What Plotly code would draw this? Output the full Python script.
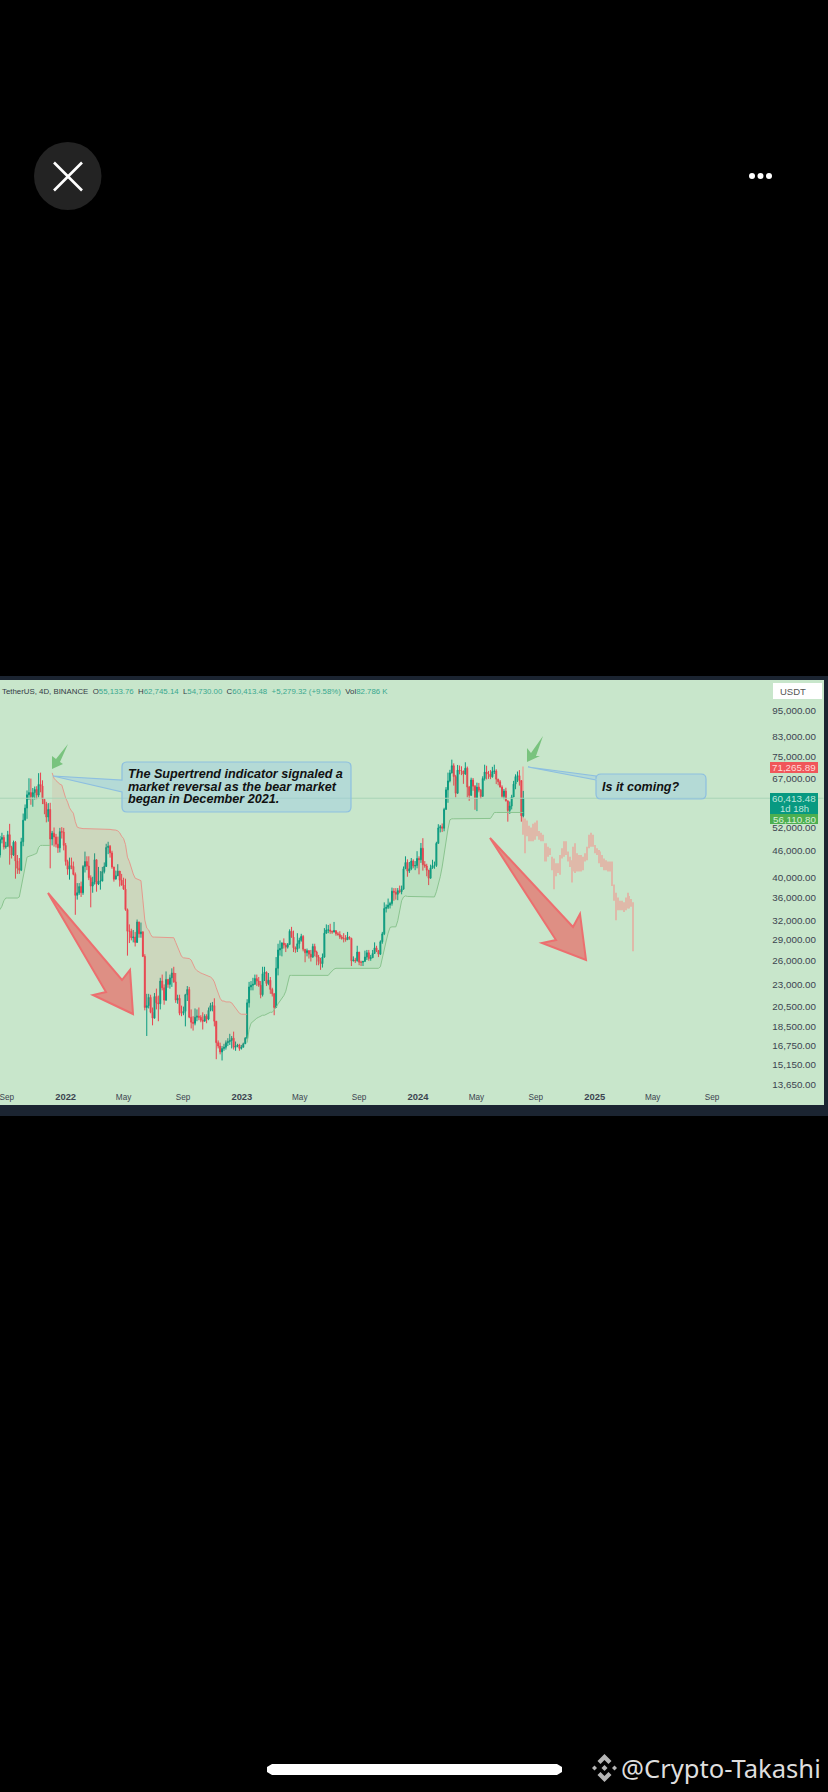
import numpy as np
import pandas as pd
import plotly.graph_objects as go

W, H = 828, 1792

# 4D BTCUSDT candles in thousands (10 candles per row)
closes = [
    48.8, 49.3, 46.9, 47.1, 50.0, 46.8, 45.0, 48.1, 43.6, 42.0,
    41.6, 48.2, 53.9, 57.4, 61.5, 62.2, 60.9, 62.2, 63.2, 61.4,
    64.9, 64.4, 60.1, 58.6, 54.8, 57.0, 48.9, 50.4, 49.4, 47.6,
    46.7, 50.8, 50.7, 47.3, 43.5, 41.8, 42.6, 42.4, 40.7, 36.5,
    37.0, 38.2, 37.0, 42.4, 43.5, 42.5, 40.0, 38.3, 39.1, 43.9,
    38.7, 39.3, 39.3, 41.3, 42.4, 46.8, 47.1, 45.5, 42.3, 39.7,
    40.4, 41.4, 39.5, 38.5, 37.7, 33.9, 30.3, 30.3, 29.3, 29.4,
    28.6, 31.8, 29.9, 30.2, 26.6, 20.4, 20.6, 21.5, 19.9, 19.3,
    21.6, 20.9, 20.8, 23.4, 22.6, 21.2, 23.6, 23.0, 23.8, 24.4,
    23.3, 21.2, 21.4, 19.8, 19.8, 20.0, 21.8, 22.4, 19.4, 18.9,
    18.8, 19.4, 19.5, 19.4, 19.1, 19.0, 19.5, 19.2, 20.1, 20.6,
    20.6, 19.0, 17.0, 16.7, 16.2, 16.5, 16.6, 17.0, 17.1, 17.2,
    17.4, 16.6, 16.7, 16.8, 16.5, 16.6, 16.9, 17.4, 20.9, 22.7,
    22.9, 23.0, 23.7, 23.4, 22.9, 21.8, 24.3, 24.5, 23.1, 23.5,
    22.4, 21.9, 20.4, 25.0, 27.5, 27.7, 28.5, 28.2, 27.9, 28.3,
    30.3, 29.4, 27.8, 27.6, 28.4, 28.9, 29.5, 27.6, 27.1, 27.4,
    26.9, 26.5, 28.0, 27.2, 26.5, 25.9, 25.6, 26.5, 30.0, 30.5,
    30.5, 30.3, 30.2, 30.4, 29.9, 29.8, 29.4, 29.2, 29.2, 29.0,
    29.4, 29.2, 26.0, 26.1, 26.0, 27.2, 25.8, 25.8, 25.9, 26.5,
    27.1, 26.3, 26.4, 27.0, 27.8, 27.4, 26.9, 28.7, 29.9, 34.1,
    34.3, 34.7, 35.0, 37.3, 37.1, 36.7, 37.4, 37.2, 37.7, 41.9,
    43.3, 41.4, 41.9, 43.6, 42.5, 42.6, 44.2, 43.9, 46.6, 42.8,
    42.5, 41.6, 39.9, 42.1, 42.6, 42.6, 47.8, 51.8, 52.1, 51.7,
    57.0, 63.1, 66.1, 68.9, 71.5, 67.6, 62.0, 69.9, 69.6, 69.6,
    68.5, 70.6, 64.0, 61.3, 66.4, 64.3, 60.6, 64.0, 63.0, 61.0,
    66.9, 69.2, 68.5, 68.5, 67.5, 69.4, 69.6, 66.7, 65.8, 64.0,
    61.0, 62.7, 59.6, 56.7, 58.0, 60.8, 65.0, 67.6, 67.9, 66.2,
    55.13, 60.41,
]
highs = [
    49.7, 50.5, 49.9, 48.2, 51.0, 52.9, 47.2, 48.5, 48.4, 45.0,
    44.3, 49.2, 55.8, 58.5, 62.9, 67.0, 66.9, 63.7, 64.2, 64.3,
    68.8, 69.0, 66.3, 60.0, 59.3, 58.9, 59.0, 51.0, 51.9, 50.2,
    49.5, 51.8, 52.0, 51.8, 47.9, 43.9, 44.4, 44.4, 43.5, 41.1,
    38.9, 38.9, 39.2, 42.7, 45.8, 44.7, 44.7, 40.5, 40.2, 45.4,
    44.0, 42.3, 41.4, 42.3, 43.3, 47.7, 48.2, 47.4, 46.0, 42.3,
    41.5, 42.9, 40.7, 40.8, 40.0, 39.8, 34.1, 31.4, 30.7, 30.5,
    30.2, 32.2, 31.7, 31.7, 30.3, 26.9, 21.9, 21.9, 21.8, 20.4,
    22.0, 22.5, 21.7, 23.8, 24.2, 23.0, 24.6, 23.5, 24.2, 25.0,
    25.2, 24.4, 21.8, 21.8, 20.6, 20.5, 21.9, 22.8, 22.7, 20.2,
    19.5, 20.3, 20.2, 20.4, 19.6, 19.9, 19.7, 19.7, 20.4, 20.9,
    21.0, 21.4, 18.2, 17.2, 17.0, 16.7, 16.9, 17.2, 17.4, 17.8,
    17.6, 18.0, 17.1, 16.9, 16.9, 16.8, 17.0, 17.5, 21.3, 23.3,
    23.4, 23.8, 24.2, 24.2, 23.9, 23.4, 25.2, 25.2, 24.6, 24.4,
    23.9, 22.6, 22.0, 26.5, 28.4, 28.9, 28.6, 29.2, 28.5, 28.5,
    30.6, 31.0, 30.4, 28.0, 30.0, 29.3, 29.9, 29.7, 27.6, 27.7,
    27.3, 27.5, 28.4, 28.4, 27.4, 26.8, 26.4, 27.0, 30.8, 31.4,
    31.3, 31.5, 30.4, 31.8, 30.4, 30.2, 30.3, 29.7, 30.0, 29.7,
    30.2, 29.5, 29.3, 26.6, 26.4, 28.1, 26.1, 26.0, 26.0, 27.4,
    27.5, 27.5, 26.8, 27.5, 28.6, 28.1, 27.5, 28.9, 30.2, 35.2,
    34.8, 35.9, 35.3, 38.0, 37.9, 37.9, 37.9, 38.4, 38.4, 42.4,
    44.7, 44.0, 43.4, 44.3, 44.0, 43.6, 45.9, 44.7, 47.9, 49.1,
    43.6, 43.0, 41.2, 42.8, 43.9, 43.5, 48.2, 52.8, 52.6, 53.0,
    57.5, 64.0, 69.0, 70.0, 73.8, 72.4, 68.2, 71.8, 71.6, 71.3,
    69.3, 72.8, 71.2, 64.4, 67.2, 67.1, 64.7, 65.5, 65.4, 63.4,
    67.7, 71.9, 71.5, 69.6, 69.9, 71.1, 71.9, 70.2, 66.8, 66.4,
    64.6, 63.4, 63.8, 59.4, 59.4, 61.5, 66.1, 68.4, 69.4, 69.9,
    65.6, 62.75,
]
lows = [
    44.4, 47.8, 46.3, 46.5, 47.0, 42.8, 44.2, 44.8, 39.8, 40.8,
    40.8, 41.4, 47.1, 53.9, 54.3, 59.9, 58.4, 57.8, 60.0, 60.1,
    60.7, 62.3, 58.6, 55.6, 53.3, 53.5, 42.0, 47.3, 47.0, 46.8,
    45.5, 45.6, 49.0, 46.1, 42.6, 40.6, 39.6, 41.8, 40.5, 33.0,
    35.7, 36.6, 36.2, 36.6, 41.1, 41.6, 39.5, 34.3, 37.0, 38.6,
    37.2, 38.5, 37.6, 39.7, 40.9, 43.7, 45.2, 44.4, 41.9, 39.2,
    39.7, 40.5, 38.2, 38.4, 37.6, 33.7, 26.7, 28.5, 28.9, 28.6,
    28.0, 28.9, 29.3, 29.3, 26.5, 20.1, 17.6, 20.3, 19.8, 18.6,
    19.3, 20.2, 19.0, 20.2, 22.3, 20.7, 21.1, 22.6, 22.5, 22.7,
    23.2, 20.9, 20.8, 19.6, 19.5, 19.6, 18.5, 21.1, 19.3, 18.3,
    18.1, 18.6, 19.0, 19.1, 18.9, 18.2, 19.1, 18.8, 19.1, 20.0,
    20.0, 18.5, 15.6, 16.5, 16.0, 15.5, 16.3, 16.4, 16.7, 16.8,
    16.5, 16.4, 16.3, 16.6, 16.3, 16.4, 16.6, 16.9, 17.3, 20.4,
    22.3, 22.3, 23.0, 22.8, 22.7, 21.4, 21.6, 23.4, 22.8, 22.9,
    21.9, 21.6, 19.6, 20.5, 24.1, 26.7, 26.6, 27.7, 27.2, 27.7,
    28.2, 29.3, 27.2, 27.1, 27.2, 27.7, 28.7, 27.3, 25.8, 26.6,
    26.3, 25.9, 26.4, 26.6, 25.4, 25.4, 24.8, 25.1, 26.4, 29.9,
    30.0, 29.9, 29.9, 30.1, 29.6, 29.6, 29.1, 29.0, 28.6, 28.7,
    29.0, 29.0, 25.3, 25.9, 25.7, 25.9, 25.4, 25.3, 25.3, 25.9,
    26.1, 26.0, 26.0, 26.4, 27.1, 27.2, 26.5, 26.8, 28.4, 29.7,
    33.4, 34.0, 34.1, 34.6, 35.5, 35.7, 35.6, 36.9, 36.7, 37.6,
    41.9, 40.2, 41.0, 41.6, 42.0, 41.6, 42.0, 40.7, 43.2, 41.5,
    42.1, 40.3, 38.5, 39.8, 41.9, 41.9, 42.3, 47.7, 50.6, 50.7,
    50.9, 57.0, 59.0, 65.6, 68.7, 64.5, 60.7, 61.8, 68.4, 68.1,
    65.1, 68.2, 60.7, 59.6, 61.3, 62.8, 56.9, 56.5, 62.3, 60.2,
    60.8, 66.2, 66.6, 66.8, 66.7, 67.2, 68.5, 65.0, 64.6, 63.9,
    60.6, 60.1, 59.4, 53.5, 55.7, 57.0, 60.9, 63.3, 65.7, 64.5,
    53.5, 54.73,
]

# Supertrend bands
up_band_1 = [33.9, 34.5, 35.5, 36.0, 36.0, 36.0, 36.0, 36.0, 36.0, 36.0,
             36.2, 38.0, 40.3, 42.5, 44.5, 44.7, 44.8, 45.0, 45.2, 45.4,
             46.8, 47.3, 47.3, 47.3, 47.3, 47.3, 47.3]
down_band = [68.9, 67.0, 66.2, 65.5, 65.0, 64.7, 62.5, 60.5, 59.2, 57.5, 56.6, 55.9, 53.5, 52.0,
             51.8, 51.6, 51.6, 51.6, 51.6, 51.6, 51.6, 51.6, 51.6, 51.5, 51.5, 51.5, 51.5, 51.5,
             51.4, 51.4, 51.4, 51.3, 51.3, 51.2, 51.0,
             50.5, 49.6, 49.0, 47.5, 44.5, 43.5, 42.0, 40.8, 39.9, 39.7, 39.5, 39.4, 35.6, 32.1,
             30.8, 30.5, 29.8, 29.4,
             29.4, 29.4, 29.4, 29.4, 29.4, 29.4, 29.3, 29.3, 29.3, 29.3, 29.3,
             28.6, 27.9, 27.2, 26.6, 26.4, 26.4, 26.3, 26.3, 26.1,
             25.5, 25.0, 24.7, 24.5, 24.4, 24.3, 24.2, 24.1, 24.0, 23.9, 23.7, 23.3, 22.6, 22.0,
             21.4, 21.1, 21.1, 21.0, 21.0, 21.0, 20.9, 20.6, 20.3, 20.0, 19.8, 19.7, 19.7, 19.7, 19.7]
up_band_2 = [17.0, 18.2, 18.8, 19.0, 19.2, 19.3, 19.4, 19.5, 19.6, 19.6, 19.7, 19.8, 19.9, 19.9,
             20.1, 20.4, 20.8, 21.1, 21.4, 21.7, 22.2, 23.2, 24.1,
             24.1, 24.1, 24.1, 24.1, 24.1, 24.1, 24.1, 24.1, 24.1, 24.1,
             24.1, 24.1, 24.1, 24.1, 24.1, 24.1, 24.1, 24.1, 24.1, 24.1,
             24.4, 24.7, 24.9, 25.0,
             25.0, 25.0, 25.0, 25.0, 25.0, 25.0, 25.0, 25.0, 25.0, 25.0, 25.0,
             25.0, 25.0, 25.0, 25.0, 25.0, 25.0, 25.0, 25.0, 25.0, 25.0, 25.0,
             25.2, 26.5, 27.6, 28.8, 30.0, 30.9, 31.0, 31.0, 31.0, 32.0, 33.5, 35.5, 36.2, 36.4,
             36.3, 36.3, 36.3, 36.3, 36.3, 36.3, 36.3, 36.3, 36.3, 36.3, 36.3, 36.3, 36.3, 36.3,
             36.2, 37.2, 38.6, 40.2, 42.3, 45.5, 48.5, 51.5, 54.0, 54.3,
             54.3, 54.3, 54.3, 54.3, 54.3, 54.3, 54.3, 54.3, 54.3, 54.3,
             54.3, 54.3, 54.3, 54.3, 54.3, 54.3, 54.3, 54.3, 54.3,
             54.4, 55.2, 56.11,
             56.11, 56.11, 56.11, 56.11, 56.11, 56.11, 56.11, 56.11,
             56.11, 56.11, 56.11, 56.11, 56.11, 56.11, 56.11]

# pale projected bars after the last real candle
ghost_high = [71.2, 54.4, 53.8, 52.4, 51.9, 52.9, 53.3, 53.8, 51.0, 50.5,
              50.0, 47.8, 47.8, 47.0, 46.6, 44.6, 44.2, 43.1, 43.1, 45.0,
              46.6, 48.3, 48.3, 45.8, 44.6, 43.8, 47.0, 47.8, 45.4, 45.0,
              45.0, 44.6, 45.4, 47.0, 50.0, 50.5, 50.0, 47.4, 46.6, 46.2,
              45.8, 45.0, 44.2, 43.8, 43.5, 43.5, 43.5, 38.6, 37.0, 36.1,
              35.5, 35.5, 35.2, 36.1, 37.0, 36.4, 35.8, 35.2]
ghost_low = [50.0, 45.4, 49.6, 48.3, 48.3, 48.3, 48.7, 49.6, 48.7, 48.3,
             48.3, 43.5, 43.5, 44.6, 45.0, 41.6, 37.7, 40.3, 41.0, 40.6,
             44.2, 44.6, 45.0, 43.5, 42.3, 39.0, 41.3, 41.0, 41.3, 41.3,
             41.3, 41.6, 43.5, 43.8, 46.6, 47.0, 47.0, 45.4, 45.0, 43.1,
             42.3, 42.3, 41.6, 41.6, 41.3, 41.3, 38.3, 35.5, 32.1, 33.8,
             33.8, 33.8, 33.5, 33.8, 34.1, 34.1, 34.4, 27.3]

y_ticks = [95000, 83000, 75000, 67000, 52000, 46000, 40000, 36000, 32000,
           29000, 26000, 23000, 20500, 18500, 16750, 15150, 13650]
x_tick_dates = ["2021-09-01", "2022-01-01", "2022-05-01", "2022-09-01", "2023-01-01",
                "2023-05-01", "2023-09-01", "2024-01-01", "2024-05-01", "2024-09-01",
                "2025-01-01", "2025-05-01", "2025-09-01"]
x_tick_text = ["Sep", "2022", "May", "Sep", "2023", "May", "Sep",
               "2024", "May", "Sep", "2025", "May", "Sep"]

RED = "#e9434f"
TEAL = "#0a9a80"
BG = "#c8e6cb"
DARK = "#1b2431"
FONT = "Liberation Sans"

closes = np.array(closes) * 1000
highs = np.array(highs) * 1000
lows = np.array(lows) * 1000
opens = np.concatenate([[45000], closes[:-1]])
dates = pd.date_range("2021-08-18", periods=len(closes), freq="4D")
ghost_dates = pd.date_range(dates[-1], periods=len(ghost_high), freq="4D")
ghost_high = np.array(ghost_high) * 1000
ghost_low = np.array(ghost_low) * 1000
body_mid = (opens + closes) / 2


def px(x):
    return x / W


def py(y):
    return 1 - y / H


def poly(points):
    return "M" + " L".join(f"{px(x):.5f},{py(y):.5f}" for x, y in points) + " Z"


def shape(points, fill, line="rgba(0,0,0,0)", width=0):
    return dict(type="path", xref="paper", yref="paper", path=poly(points), fillcolor=fill,
                line=dict(color=line, width=width), layer="above")


def callout(x0, y0, x1, y1, r, tail):
    # tail = tip point + two points on the left edge
    tip, a, b = tail
    p = f"M{px(x0 + r):.5f},{py(y0):.5f} L{px(x1 - r):.5f},{py(y0):.5f} "
    p += f"Q{px(x1):.5f},{py(y0):.5f} {px(x1):.5f},{py(y0 + r):.5f} "
    p += f"L{px(x1):.5f},{py(y1 - r):.5f} Q{px(x1):.5f},{py(y1):.5f} {px(x1 - r):.5f},{py(y1):.5f} "
    p += f"L{px(x0 + r):.5f},{py(y1):.5f} Q{px(x0):.5f},{py(y1):.5f} {px(x0):.5f},{py(y1 - r):.5f} "
    p += f"L{px(x0):.5f},{py(b):.5f} L{px(tip[0]):.5f},{py(tip[1]):.5f} L{px(x0):.5f},{py(a):.5f} "
    p += f"L{px(x0):.5f},{py(y0 + r):.5f} Q{px(x0):.5f},{py(y0):.5f} {px(x0 + r):.5f},{py(y0):.5f} Z"
    return dict(type="path", xref="paper", yref="paper", path=p, fillcolor="rgba(160,205,225,0.5)",
                line=dict(color="#8dbfe0", width=1.2), layer="above")


def label(x, y, text, size=10, color="#333", anchor="left", **kw):
    return dict(xref="paper", yref="paper", x=px(x), y=py(y), text=text, showarrow=False,
                xanchor=anchor, yanchor="middle", font=dict(size=size, color=color, family=kw.pop("family", FONT)), **kw)


fig = go.Figure()


def band(start, values, line_color, fill_color):
    idx = dates[start:start + len(values)]
    fig.add_trace(go.Scatter(x=idx, y=body_mid[start:start + len(values)], mode="lines",
                             line=dict(width=0), hoverinfo="skip", showlegend=False))
    fig.add_trace(go.Scatter(x=idx, y=np.array(values) * 1000, mode="lines", fill="tonexty",
                             fillcolor=fill_color, line=dict(color=line_color, width=1),
                             hoverinfo="skip", showlegend=False))


GREEN_FILL = "rgba(90,190,110,0.10)"
RED_FILL = "rgba(235,110,90,0.12)"
band(0, up_band_1, "#8ac48f", GREEN_FILL)
band(27, down_band, "#e59a8d", RED_FILL)
band(128, up_band_2, "#8ac48f", GREEN_FILL)

# current price line
fig.add_trace(go.Scatter(x=[dates[0] - pd.Timedelta(days=3), "2026-04-20"], y=[closes[-1], closes[-1]],
                         mode="lines", line=dict(color="#a8d4b8", width=1),
                         hoverinfo="skip", showlegend=False))

# bars instead of candles, the candle bodies merge into a blob at this width
fig.add_trace(go.Bar(x=ghost_dates, y=ghost_high - ghost_low, base=ghost_low,
                     width=2.0 * 86400000, marker=dict(color="#dfb9a9", line_width=0),
                     hoverinfo="skip", showlegend=False))
fig.add_trace(go.Candlestick(x=dates, open=opens, high=highs, low=lows, close=closes,
                             increasing=dict(line=dict(color=TEAL, width=1), fillcolor=TEAL),
                             decreasing=dict(line=dict(color=RED, width=1), fillcolor=RED),
                             hoverinfo="skip", showlegend=False))

ARROW_RED = "rgba(236,88,88,0.62)"
ARROW_EDGE = "#ec6f6f"
ARROW_GREEN = "#79c37e"
logo = "#b5b5b5"
cx, cy = 604.5, 1768

shapes = [
    # window bits around the chart
    dict(type="rect", xref="paper", yref="paper", x0=0, x1=1, y0=py(680), y1=py(676), fillcolor=DARK, line_width=0, layer="below"),
    dict(type="rect", xref="paper", yref="paper", x0=0, x1=1, y0=py(1116), y1=py(1105), fillcolor=DARK, line_width=0, layer="below"),
    dict(type="rect", xref="paper", yref="paper", x0=px(824), x1=1, y0=py(1105), y1=py(680), fillcolor=DARK, line_width=0, layer="below"),
    # arrows
    shape([(48, 893), (122, 980), (130, 970), (133, 1014), (93, 995), (106, 992)], ARROW_RED, ARROW_EDGE, 2),
    shape([(490, 838), (573, 927), (580, 914), (586, 960), (542, 943), (556, 940)], ARROW_RED, ARROW_EDGE, 2),
    shape([(68, 744), (60, 762), (63, 764), (52, 769), (52, 756), (56, 759)], ARROW_GREEN),
    shape([(543, 736), (536, 756), (540, 756), (527, 762), (527, 748), (531, 753)], ARROW_GREEN),
    # callouts
    callout(122, 762, 351, 812, 5, ((53, 776), 780, 792)),
    callout(596, 774, 706, 799, 5, ((528, 767), 776, 780)),
    # price tags
    dict(type="rect", xref="paper", yref="paper", x0=px(773), x1=px(822), y0=py(699), y1=py(683), fillcolor="white", line_width=0, layer="above"),
    dict(type="rect", xref="paper", yref="paper", x0=px(770), x1=px(818), y0=py(773), y1=py(762), fillcolor="#f0565a", line_width=0, layer="above"),
    dict(type="rect", xref="paper", yref="paper", x0=px(770), x1=px(818), y0=py(814), y1=py(793), fillcolor="#089981", line_width=0, layer="above"),
    dict(type="rect", xref="paper", yref="paper", x0=px(770), x1=px(818), y0=py(824), y1=py(814), fillcolor="#4caf50", line_width=0, layer="above"),
    # phone ui
    dict(type="circle", xref="paper", yref="paper", x0=px(34), x1=px(101.5), y0=py(210), y1=py(142), fillcolor="#232323", line_width=0, layer="above"),
    dict(type="line", xref="paper", yref="paper", x0=px(54), x1=px(82), y0=py(162.5), y1=py(190.5), line=dict(color="white", width=2.6), layer="above"),
    dict(type="line", xref="paper", yref="paper", x0=px(82), x1=px(54), y0=py(162.5), y1=py(190.5), line=dict(color="white", width=2.6), layer="above"),
    dict(type="circle", xref="paper", yref="paper", x0=px(749), x1=px(755), y0=py(179), y1=py(173), fillcolor="white", line_width=0, layer="above"),
    dict(type="circle", xref="paper", yref="paper", x0=px(757.5), x1=px(763.5), y0=py(179), y1=py(173), fillcolor="white", line_width=0, layer="above"),
    dict(type="circle", xref="paper", yref="paper", x0=px(766), x1=px(772), y0=py(179), y1=py(173), fillcolor="white", line_width=0, layer="above"),
    shape([(272, 1764), (557, 1764), (562, 1767), (562, 1772), (557, 1775), (272, 1775), (267, 1772), (267, 1767)], "white"),
    # exchange logo beside the handle
    shape([(cx, cy - 14), (cx + 7, cy - 7), (cx + 4, cy - 4), (cx, cy - 8), (cx - 4, cy - 4), (cx - 7, cy - 7)], logo),
    shape([(cx, cy + 14), (cx + 7, cy + 7), (cx + 4, cy + 4), (cx, cy + 8), (cx - 4, cy + 4), (cx - 7, cy + 7)], logo),
    shape([(cx, cy - 3), (cx + 3, cy), (cx, cy + 3), (cx - 3, cy)], logo),
    shape([(cx - 10, cy - 2.5), (cx - 7.5, cy), (cx - 10, cy + 2.5), (cx - 12.5, cy)], logo),
    shape([(cx + 10, cy - 2.5), (cx + 12.5, cy), (cx + 10, cy + 2.5), (cx + 7.5, cy)], logo),
]

val = "#3aa88f"
header = ("TetherUS, 4D, BINANCE&nbsp;&nbsp;"
          f"O<span style='color:{val}'>55,133.76</span>&nbsp;&nbsp;"
          f"H<span style='color:{val}'>62,745.14</span>&nbsp;&nbsp;"
          f"L<span style='color:{val}'>54,730.00</span>&nbsp;&nbsp;"
          f"C<span style='color:{val}'>60,413.48</span>&nbsp;&nbsp;"
          f"<span style='color:{val}'>+5,279.32 (+9.58%)</span>&nbsp;&nbsp;"
          f"Vol<span style='color:{val}'>82.786 K</span>")

annotations = [
    label(0, 691, header, size=7.85, color="#333a45"),
    label(126, 774, "<b><i>The Supertrend indicator signaled a</i></b>", size=12.6, color="#111"),
    label(126, 787, "<b><i>market reversal as the bear market</i></b>", size=12.6, color="#111"),
    label(126, 799, "<b><i>began in December 2021.</i></b>", size=12.6, color="#111"),
    label(600, 787, "<b><i>Is it coming?</i></b>", size=12.5, color="#111"),
    label(778, 691, "USDT", size=9.5, color="#555"),
    label(794, 767.5, "71,265.89", size=9.8, color="#ffd9d9", anchor="center"),
    label(794, 798.5, "60,413.48", size=9.8, color="#bfe8dc", anchor="center"),
    label(794, 808, "1d 18h", size=9.5, color="#bfe8dc", anchor="center"),
    label(794, 819, "56,110.80", size=9.8, color="#d8f0d8", anchor="center"),
    label(619, 1768, "@Crypto-Takashi", size=25.6, color="#dedede", family="Noto Sans"),
]

fig.update_layout(
    width=W, height=H, autosize=False,
    margin=dict(l=0, r=0, t=0, b=0, autoexpand=False),
    paper_bgcolor="black", plot_bgcolor=BG,
    showlegend=False, hovermode=False,
    shapes=shapes, annotations=annotations,
    font=dict(family=FONT),
)
tick_labels = [f"<span style='font-size:9.4px'><b>{t}</b></span>" if t.isdigit() else t for t in x_tick_text]
fig.update_xaxes(
    type="date", domain=[0, 824 / W], range=["2021-08-18", "2026-04-21"],
    rangeslider_visible=False, showgrid=False, zeroline=False, showline=False,
    tickmode="array", tickvals=x_tick_dates, ticktext=tick_labels, tickangle=0,
    ticklabelposition="inside", ticklabeloverflow="allow", ticks="",
    tickfont=dict(size=8.2, color="#3c4450", family=FONT),
)
fig.update_yaxes(
    type="log", domain=[py(1105), py(680)], range=[4.0900, 5.0475], side="right",
    showgrid=False, zeroline=False, showline=False,
    tickmode="array", tickvals=y_ticks, ticktext=[f"{v:,.2f}" for v in y_ticks],
    ticklabelposition="inside", ticklabeloverflow="allow", ticks="inside", ticklen=7,
    tickcolor="rgba(0,0,0,0)", tickfont=dict(size=9.8, color="#3c4450", family=FONT),
)

# the page has a default 8px body margin, take it off so the picture sits at 0,0
fig.write_html("out.html", config={"displayModeBar": False},
               post_script="document.body.style.margin='0';")
